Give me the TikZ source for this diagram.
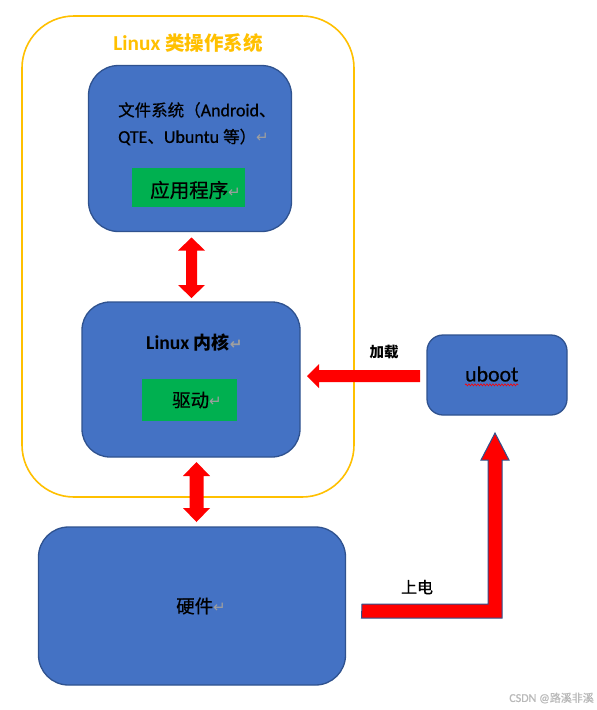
\documentclass[tikz,border=0pt]{standalone}
\usepackage{fontspec}
\setmainfont{Carlito}[Scale=1.09, UprightFeatures={FakeBold=0.6}]
\newfontfamily\cjk{Noto Sans CJK SC}[UprightFeatures={FakeBold=0.6}]
\newfontfamily\djv{DejaVu Sans}
\usetikzlibrary{calc,decorations.pathmorphing}
\definecolor{boxblue}{HTML}{4472C4}
\definecolor{boxedge}{HTML}{2F528F}
\definecolor{gold}{HTML}{FFC000}
\definecolor{grn}{HTML}{00B050}
\newcommand\pmark{{\djv\color{gray!75}\fontsize{15}{15}\selectfont ↵}}
% vertical double block arrow: #1 top, #2 bottom, #3 shaft half width, #4 head half width, #5 head length
\newcommand\vdarr[5]{%
  \fill[red] (#1) -- ($(#1)+(#4,#5)$) -- ($(#1)+(#3,#5)$) -- ($(#2)+(#3,-#5)$) -- ($(#2)+(#4,-#5)$) -- (#2)
   -- ($(#2)+(-#4,-#5)$) -- ($(#2)+(-#3,-#5)$) -- ($(#1)+(-#3,#5)$) -- ($(#1)+(-#4,#5)$) -- cycle;}
\begin{document}
\begin{tikzpicture}[x=1pt,y=-1pt,
  bluebox/.style={draw=boxedge, line width=1.3pt, fill=boxblue, rounded corners=#1, inner sep=0pt, outer sep=0pt},
  greenbox/.style={fill=grn, inner sep=0pt, outer sep=0pt},
  txt/.style={inner sep=0pt, anchor=west, text=black},
  sz/.style={font=\fontsize{#1}{#1}\selectfont},
  bsz/.style={font=\bfseries\fontsize{#1}{#1}\selectfont}]
\useasboundingbox (0,0) rectangle (597,710);
\fill[white] (0,0) rectangle (597,710);

% container
\node[draw=gold, line width=1.6pt, rounded corners=52pt, minimum width=332pt, minimum height=481pt, inner sep=0pt] (os) at (188,256.5) {};
\node[bsz=19.5, text=gold, inner sep=0pt] (title) at (188,43) {Linux {\cjk 类操作系统}};

% file system box
\node[bluebox=30pt, minimum width=203pt, minimum height=166pt] (fs) at (190,148.5) {};
\node[txt, sz=16.5] (fs1) at (118,110) {{\cjk 文件系统（}Android{\cjk 、}};
\node[txt, sz=16.5] (fs2) at (118,137) {QTE{\cjk 、}Ubuntu {\cjk 等）}\pmark};
\node[greenbox, minimum width=113pt, minimum height=39pt] (app) at (188.5,187.5) {};
\node[txt, sz=19.5] (appt) at (150,190) {{\cjk 应用程序}\pmark};

% kernel box
\node[bluebox=28pt, minimum width=218pt, minimum height=155pt] (kern) at (191,379.5) {};
\node[txt, bsz=18] (kernt) at (146,343) {Linux {\cjk 内核}\pmark};
\node[greenbox, minimum width=95pt, minimum height=42pt] (drv) at (189.5,400) {};
\node[txt, sz=18.5] (drvt) at (172,400) {{\cjk 驱动}\pmark};

% hardware box
\node[bluebox=30pt, minimum width=307pt, minimum height=158pt] (hw) at (192,606) {};
\node[txt, sz=18.5] (hwt) at (176,606) {{\cjk 硬件}\pmark};

% uboot box
\node[bluebox=16pt, minimum width=140pt, minimum height=80pt] (ub) at (497,375) {};
\node[txt, sz=20] (ubt) at (465,374) {uboot};
\draw[red, line width=0.6pt, decorate, decoration={snake, amplitude=1pt, segment length=3pt}] ($(ubt.south west)+(0,3)$) -- ($(ubt.south east)+(0,3)$);

% double arrows
\coordinate (a1t) at ($(fs.south)+(1.5,6)$);
\coordinate (a1b) at ($(kern.north)+(0.5,-4)$);
\vdarr{a1t}{a1b}{5.5}{13.5}{13}
\coordinate (a2t) at ($(kern.south)+(5.5,5)$);
\coordinate (a2b) at ($(hw.north)+(4.5,-5)$);
\vdarr{a2t}{a2b}{7}{13.5}{14}

% load arrow
\coordinate (ltail) at ($(ub.west)+(-7,1)$);
\coordinate (ltip) at ($(kern.east)+(7,-3.5)$);
\fill[red] (ltail) ++(0,-6) -- ++(-101,0) -- ++(0,-6) -- (ltip) -- ++(12,12) -- ++(0,-6) -- ++(101,0) -- cycle;
\node[bsz=14.5, inner sep=0pt] (load) at (384,352) {{\cjk 加载}};

% power-on arrow
\coordinate (etail) at ($(hw.east)+(16,5)$);
\coordinate (etip) at ($(ub.south)+(-2,18)$);
\filldraw[fill=red, draw=boxedge, line width=1pt] (362,604) -- (488,604) -- (488,460) -- (481,460) -- (etip) -- (509,460) -- (502,460) -- (502,618) -- (etail |- 0,618) -- cycle;
\node[sz=16, inner sep=0pt] (pwr) at (417,587) {{\cjk 上电}};

% watermark
\node[anchor=east, inner sep=0pt, text=gray!55, sz=11] (wm) at (594,698) {CSDN @{\cjk 路溪非溪}};
\end{tikzpicture}
\end{document}
